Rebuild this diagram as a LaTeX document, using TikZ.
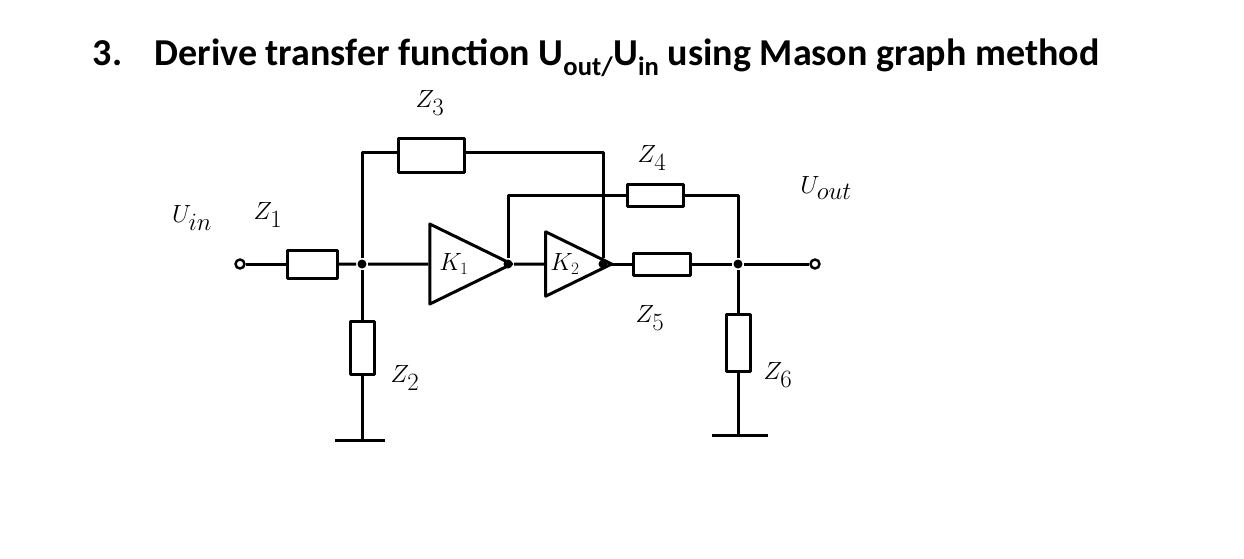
\documentclass[tikz,border=0pt]{standalone}
\usepackage{fontspec}
\setmainfont{Carlito}
\usetikzlibrary{shapes.geometric}
\begin{document}
\begin{tikzpicture}[x=1pt,y=-1pt,line width=3pt,line join=round,
  res/.style={draw,rectangle,minimum width=#1,inner sep=0pt},
  dot/.style={circle,fill,inner sep=0pt,minimum size=9pt},
  term/.style={circle,draw,line width=2.5pt,inner sep=0pt,minimum size=9pt},
  amp/.style={draw,isosceles triangle,isosceles triangle apex angle=52,inner sep=0pt,minimum height=#1,font=\fontsize{24}{24}\selectfont\itshape},
  lbl/.style={font=\fontsize{40}{40}\selectfont\itshape}]
\useasboundingbox (0,0) rectangle (1244,558);
\node[anchor=base west,font=\fontsize{38}{38}\selectfont\bfseries] (title) at (88,65) {3.\hspace{0.55em} Derive transfer function U\textsubscript{out/}U\textsubscript{in} using Mason graph method};
% nodes
\node[term] (uin) at (240,264) {};
\node[res=50pt,minimum height=28pt] (z1) at (312,264) {};
\node[dot] (n1) at (362,264) {};
\node[res=24pt,minimum height=53pt] (z2) at (362,348) {};
\coordinate (g1) at (362,440);
\coordinate (g1a) at (335,440); \coordinate (g1b) at (385,440);
\node[res=66pt,minimum height=34pt] (z3) at (431,155) {};
\node[amp=82pt] (k1) at (454,264) {$K_1$};
\node[dot] (n2) at (508,264) {};
\node[amp=66pt] (k2) at (565,264) {$K_2$};
\node[dot] (n3) at (603,264) {};
\node[res=56pt,minimum height=22pt] (z4) at (655,195) {};
\node[res=57pt,minimum height=22pt] (z5) at (662,264) {};
\node[dot] (n4) at (738,264) {};
\node[term] (uout) at (815,264) {};
\node[res=24pt,minimum height=57pt] (z6) at (738,343) {};
\coordinate (g2) at (738,435);
\coordinate (g2a) at (712,435); \coordinate (g2b) at (768,435);
% wires
\draw (uin) -- (z1.west);
\draw (z1.east) -- (n1) -- (k1.west);
\draw (n1) -- (z2.north);
\draw (z2.south) -- (g1); \draw (g1a) -- (g1b);
\draw (n1) -- (362,152) -- (z3.west|-0,152);
\draw (z3.east|-0,152) -- (603,152) -- (n3);
\draw (k1.apex) -- (n2) -- (k2.west);
\draw (k2.apex) -- (n3) -- (z5.west);
\draw (n2) -- (508,195) -- (z4.west);
\draw (z4.east) -- (738,195) -- (n4);
\draw (z5.east) -- (n4) -- (uout);
\draw (n4) -- (z6.north);
\draw (z6.south) -- (g2); \draw (g2a) -- (g2b);
% labels
\node[lbl] (lz3) at (430,103) {$Z_3$};
\node[lbl] (lz4) at (652,158) {$Z_4$};
\node[lbl] (luout) at (826,188) {$U_{out}$};
\node[lbl] (luin) at (192,218) {$U_{in}$};
\node[lbl] (lz1) at (268,215) {$Z_1$};
\node[lbl] (lz5) at (650,318) {$Z_5$};
\node[lbl] (lz2) at (405,378) {$Z_2$};
\node[lbl] (lz6) at (778,375) {$Z_6$};
\end{tikzpicture}
\end{document}
